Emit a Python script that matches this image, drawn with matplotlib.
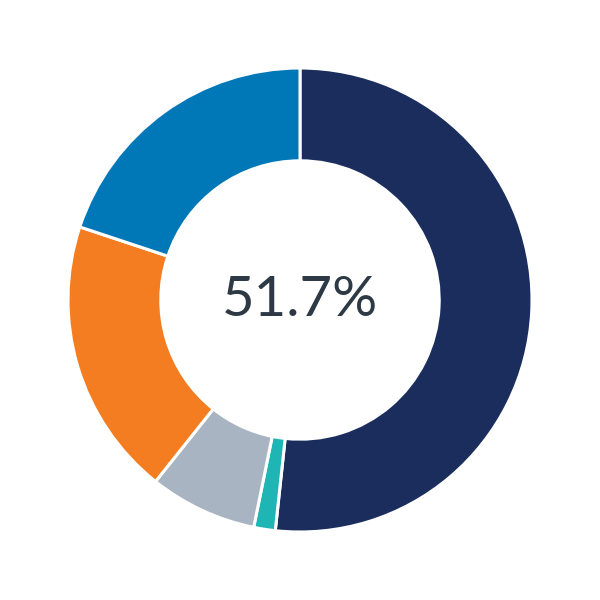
import matplotlib
matplotlib.use("Agg")
import matplotlib.pyplot as plt

labels = ["A", "B", "C", "D", "E"]
values = [51.7, 1.5, 7.5, 19.4, 19.9]
colors = ["#1b2d5c", "#1fb5b5", "#a9b4c2", "#f37d20", "#0077b6"]
center_label = "51.7%"

fig = plt.figure(figsize=(6, 6), dpi=100)
ax = fig.add_axes([0, 0, 1, 1])
ax.pie(values, colors=colors, startangle=90, counterclock=False,
       radius=1.0,
       wedgeprops=dict(width=0.40, edgecolor="white", linewidth=2.2))
lim = 300 / 232
ax.set_xlim(-lim, lim)
ax.set_ylim(-lim, lim)
ax.set_aspect("equal")
ax.axis("off")
ax.text(0, 0, center_label, ha="center", va="center", fontsize=40.5,
        family=["Lato", "DejaVu Sans"], color="#2d3a45")
fig.savefig("out.png", dpi=100, facecolor="white")
